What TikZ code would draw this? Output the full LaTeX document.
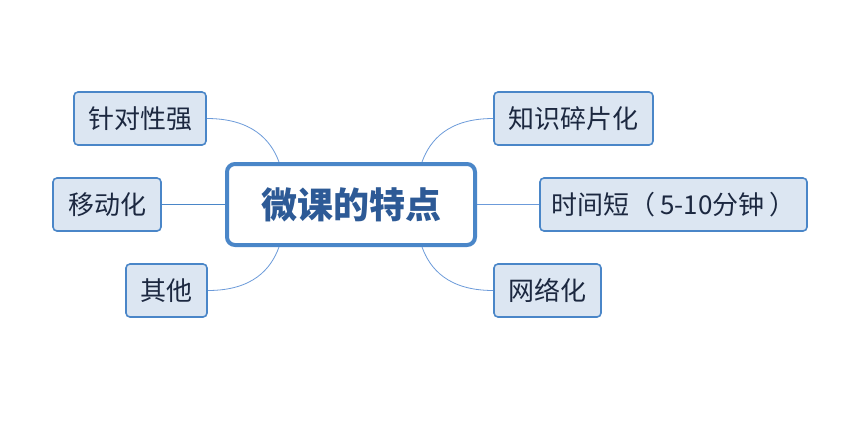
\documentclass[tikz,border=0pt]{standalone}
\usepackage{fontspec}
\newfontfamily\cjk{Noto Sans CJK SC}
\usetikzlibrary{calc}
\definecolor{boxfill}{HTML}{DCE6F2}
\definecolor{boxline}{HTML}{4A86C8}
\definecolor{txt}{HTML}{1C2840}
\definecolor{maintxt}{HTML}{2D5A96}
\definecolor{conn}{HTML}{6C9BDA}
\tikzset{
  leaf/.style={draw=boxline, line width=1.6pt, fill=boxfill, rounded corners=4pt,
    inner sep=0pt, font=\cjk\fontsize{26}{26}\selectfont, text=txt},
  centre/.style={draw=boxline, line width=4pt, fill=white, rounded corners=8pt,
    inner sep=0pt, minimum width=248pt, minimum height=81pt,
    font=\cjk\bfseries\fontsize{36}{36}\selectfont, text=maintxt},
  link/.style={draw=conn, line width=0.8pt}
}
\begin{document}
\begin{tikzpicture}[x=1pt,y=-1pt]
\useasboundingbox[fill=white] (0,0) rectangle (856,421);
\node[centre] (c) at (351,204.5) {微课的特点};
\node[leaf, minimum width=132pt, minimum height=53pt] (a) at (140,118.5) {针对性强};
\node[leaf, minimum width=108pt, minimum height=53pt] (b) at (107,204.5) {移动化};
\node[leaf, minimum width=81pt, minimum height=53pt] (d) at (166.5,290.5) {其他};
\node[leaf, minimum width=159pt, minimum height=53pt] (e) at (573.5,118.5) {知识碎片化};
\node[leaf, minimum width=267pt, minimum height=53pt] (f) at (673.5,204.5) {时间短（\hspace{5pt}5-10分钟\hspace{5pt}）};
\node[leaf, minimum width=107pt, minimum height=53pt] (g) at (547.5,290.5) {网络化};
\coordinate (ctl) at ($(c.north west)+(54,0)$);
\coordinate (ctr) at ($(c.north east)+(-55,0)$);
\coordinate (cbl) at ($(c.south west)+(54,0)$);
\coordinate (cbr) at ($(c.south east)+(-55,0)$);
\draw[link] (a.east) .. controls ++(45,0) and ++(-8,-22) .. (ctl);
\draw[link] (e.west) .. controls ++(-45,0) and ++(8,-22) .. (ctr);
\draw[link] (d.east) .. controls ++(45,0) and ++(-8,22) .. (cbl);
\draw[link] (g.west) .. controls ++(-45,0) and ++(8,22) .. (cbr);
\draw[draw=boxline, line width=1pt] (b.east) -- (c.west);
\draw[draw=conn, line width=1pt] (c.east) -- (f.west);
\end{tikzpicture}
\end{document}
